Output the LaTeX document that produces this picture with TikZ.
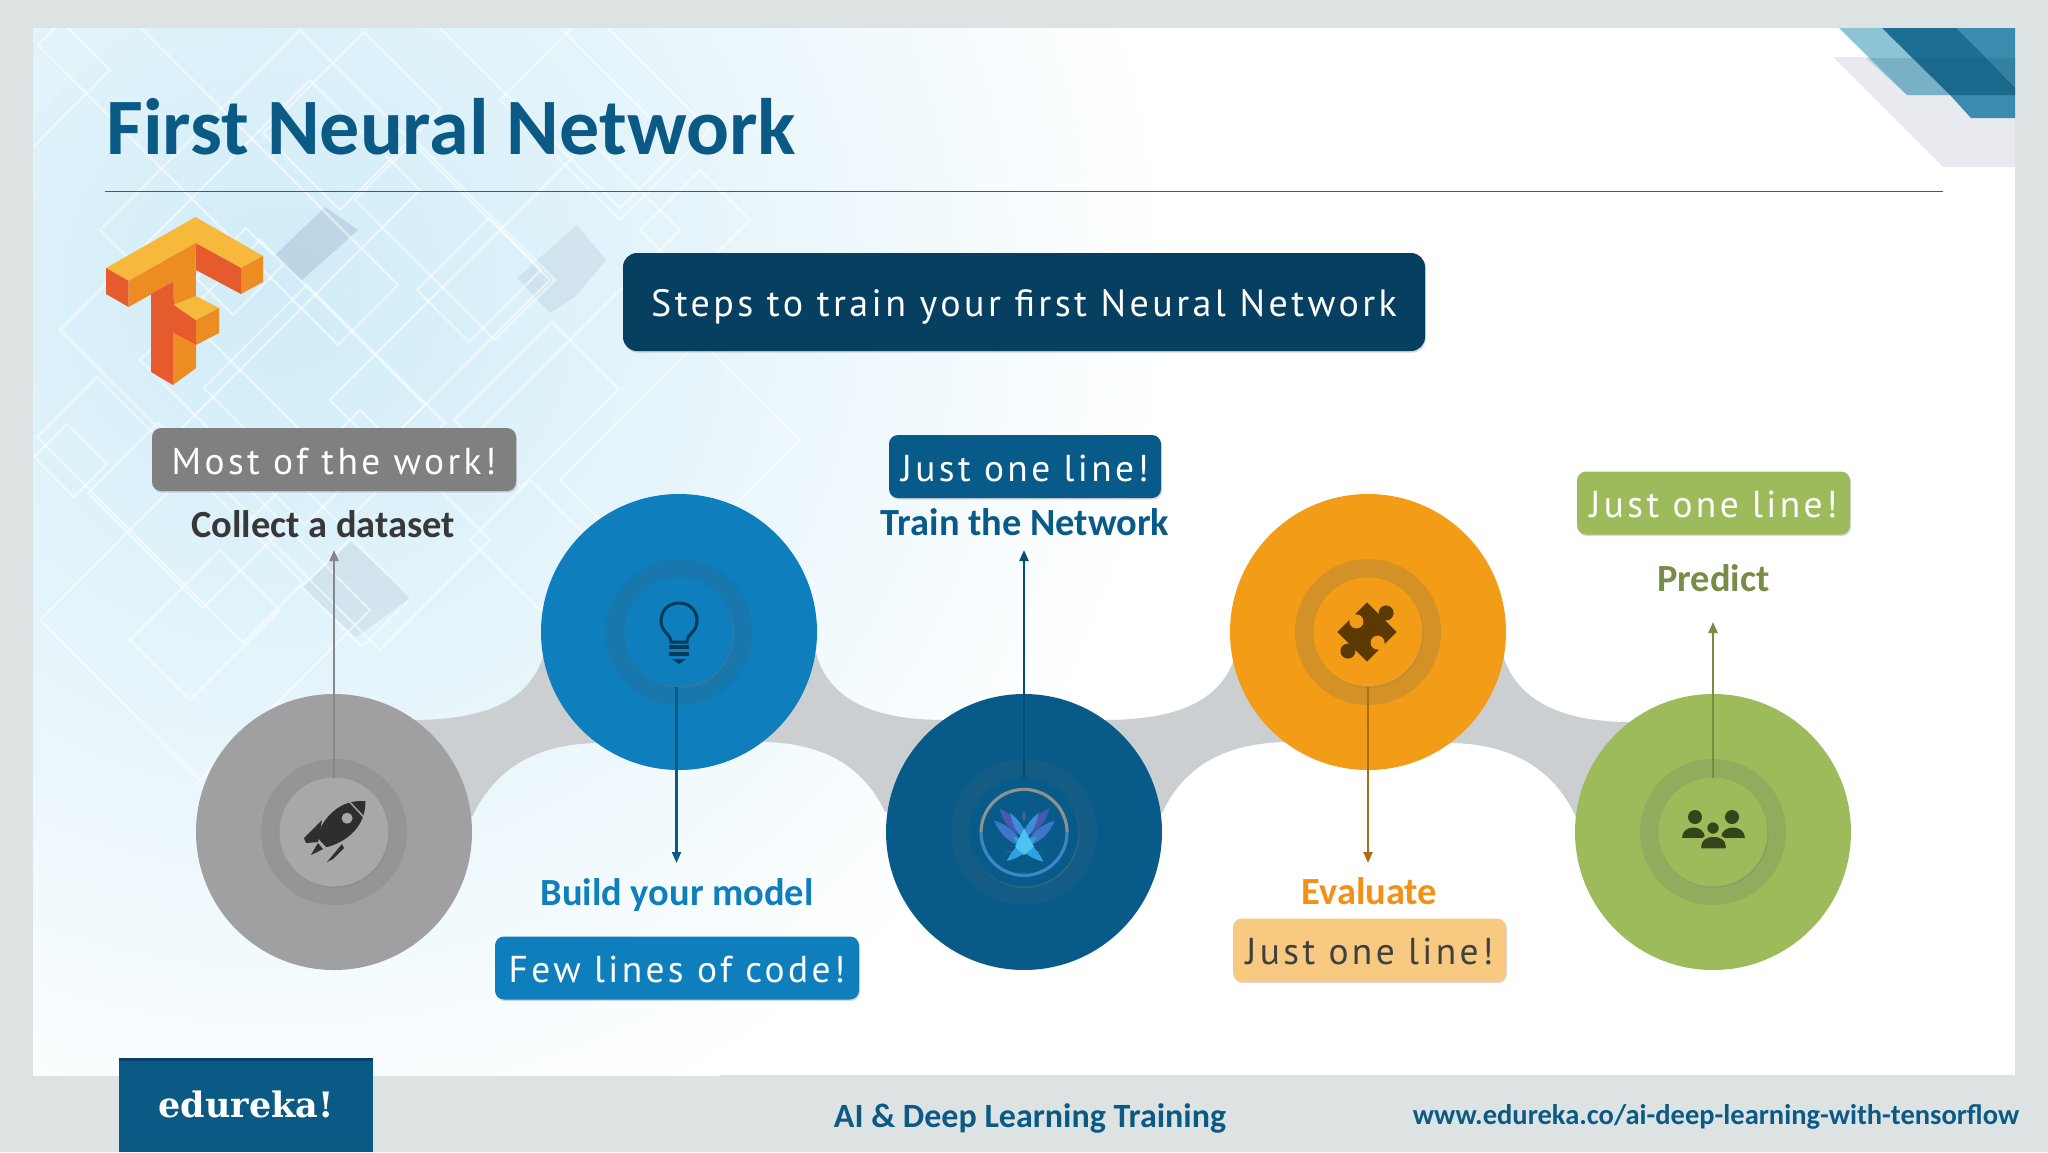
\documentclass[tikz,border=0pt]{standalone}
\usepackage{fontspec}
\usepackage{xcolor}
\usepackage{tikz}
\usetikzlibrary{arrows.meta, positioning, shadows}
\setmainfont{Carlito}
\newfontfamily\dinfont[LetterSpace=9]{PT Sans}
\newfontfamily\logofont{DejaVu Serif}
\definecolor{colFrame}{RGB}{221,227,227}
\definecolor{colWash}{RGB}{208,236,248}
\definecolor{colTitle}{RGB}{11,90,133}
\definecolor{colRule}{RGB}{30,105,138}
\definecolor{colBand}{RGB}{204,207,209}
\definecolor{colGrey}{RGB}{160,159,162}
\definecolor{colGreyRing}{RGB}{149,149,151}
\definecolor{colBlue}{RGB}{14,126,188}
\definecolor{colBlueRing}{RGB}{24,119,172}
\definecolor{colNavy}{RGB}{8,90,136}
\definecolor{colNavyRing}{RGB}{19,92,134}
\definecolor{colOrange}{RGB}{243,156,24}
\definecolor{colOrangeRing}{RGB}{212,145,37}
\definecolor{colGreen}{RGB}{158,187,91}
\definecolor{colGreenRing}{RGB}{146,171,92}
\definecolor{colCornerGrey}{RGB}{232,234,239}
\definecolor{colCornerPale}{RGB}{140,196,214}
\definecolor{colCornerMid}{RGB}{59,139,174}
\definecolor{colCornerDark}{RGB}{30,110,148}
\definecolor{colCornerTint}{RGB}{12,70,105}
\definecolor{colTfYellow}{RGB}{246,185,59}
\definecolor{colTfRed}{RGB}{229,91,45}
\definecolor{colTfOrange}{RGB}{236,140,35}
\definecolor{colPuzzle}{RGB}{90,58,0}
\definecolor{colPeople}{RGB}{52,69,27}
\definecolor{colRingBlue}{RGB}{61,134,198}
\definecolor{colRingGrey}{RGB}{140,145,145}
\definecolor{colPetalA}{RGB}{74,88,176}
\definecolor{colPetalB}{RGB}{62,119,201}
\definecolor{colPetalC}{RGB}{58,143,216}
\definecolor{colPetalD}{RGB}{46,163,224}
\definecolor{colPetalE}{RGB}{79,195,240}
\definecolor{colBrand}{RGB}{10,90,133}
\definecolor{colBrandTop}{RGB}{8,66,100}
\definecolor{colStrip}{RGB}{125,145,170}
\tikzset{
  stepcircle/.style={circle, inner sep=0pt, outer sep=0pt, minimum size=138pt},
  ringcircle/.style={circle, inner sep=0pt, outer sep=0pt, minimum size=73pt},
  disccircle/.style={circle, inner sep=0pt, outer sep=0pt, minimum size=54.5pt,
    drop shadow={opacity=.3, shadow xshift=.5pt, shadow yshift=-.7pt}},
  tagbox/.style={rectangle, rounded corners=4.5pt, inner sep=0pt, minimum height=31.5pt,
    text=white, font=\dinfont\fontsize{18.7}{22}\selectfont, text height=16pt, text depth=1.5pt,
    drop shadow={opacity=.3, shadow xshift=.5pt, shadow yshift=-.8pt}},
  steplabel/.style={font=\bfseries\fontsize{19.2}{23}\selectfont, inner sep=0pt},
  footlabel/.style={font=\bfseries\fontsize{17}{20}\selectfont, inner sep=0pt, text=colTitle},
  stemarr/.style={-{Stealth[length=5.5pt, width=4.5pt, inset=0pt]}, line width=1.1pt},
  lattice/.style={draw=white, line width=1.2pt, opacity=.5},
  bandfill/.style={fill=colBand},
}
% one lattice rhombus: left corner, run up-right, run down-right
\newcommand{\latrhomb}[4]{\draw[lattice] (#1,#2) -- ++(#3,-#3) -- ++(#4,#4) -- ++(-#3,#3) -- cycle;}

\begin{document}
\begin{tikzpicture}[x=.5pt, y=-.5pt]
\useasboundingbox (0,0) rectangle (2048,1152);

% -- Slide ------------------------------------------------------------------
\fill[colFrame] (0,0) rectangle (2048,1152);
\fill[white] (33,28) rectangle (2015,1075);

% -- Background wash and lattice ---------------------------------------------
\begin{scope}
  \clip (33,28) rectangle (2015,1075);
  \shade[inner color=colWash, outer color=white] (280,290) circle (900);
  \fill[colWash!55!white, opacity=.4] (33,28) -- (120,28) -- (33,120) -- cycle;
  % darker strips behind the logo
  \fill[colStrip, opacity=.25] (273,257) -- (325,207) -- (358,230) -- (302,280) -- cycle;
  \fill[colStrip, opacity=.14] (517,278) -- (577,225) -- (606,260) -- (575,297) -- (550,313) -- cycle;
  \fill[colStrip, opacity=.14] (302,587) -- (351,542) -- (412,597) -- (356,637) -- cycle;
  \latrhomb{204}{388}{103}{138}
  \latrhomb{454}{420}{98}{67}
  \latrhomb{417}{290}{72}{52}
  \latrhomb{263}{133}{101}{77}
  \latrhomb{196}{278}{50}{37}
  \latrhomb{302}{587}{49}{60}
  \latrhomb{37}{437}{60}{206}
  \latrhomb{34}{457}{33}{40}
  \latrhomb{38}{45}{60}{300}
  \latrhomb{440}{28}{60}{180}
  \latrhomb{88}{493}{70}{115}
  \latrhomb{470}{540}{60}{70}
  \latrhomb{130}{640}{90}{60}
  \latrhomb{140}{360}{120}{165}
  \latrhomb{355}{200}{60}{140}
  \latrhomb{500}{100}{90}{120}
  \latrhomb{640}{230}{60}{50}
  \latrhomb{-60}{120}{110}{60}
  \latrhomb{60}{330}{250}{110}
  \latrhomb{40}{620}{170}{160}
  \latrhomb{330}{400}{260}{90}
  \latrhomb{100}{230}{200}{250}
  \latrhomb{560}{480}{140}{100}
  \latrhomb{250}{520}{110}{130}
\end{scope}

% -- Corner decoration -------------------------------------------------------
\fill[colCornerGrey] (1833,57) -- (1943,167) -- (2015,167) -- (2015,57) -- cycle;
\fill[colCornerPale] (1839,28) -- (1907,95) -- (1950,95) -- (1883,28) -- cycle;
\fill[colCornerMid] (1950,95) -- (1971,118) -- (2015,118) -- (2015,95) -- cycle;
\fill[colCornerDark] (1882,28) -- (1950,95) -- (2015,95) -- (2015,87) -- (1957,28) -- cycle;
\fill[colCornerMid] (1957,28) -- (2015,87) -- (2015,28) -- cycle;
\fill[colCornerTint, opacity=.15] (1866,58) -- (2015,58) -- (2015,95) -- (1907,95) -- cycle;

% -- Title -------------------------------------------------------------------
\node[font=\bfseries\fontsize{40}{46}\selectfont, text=colTitle, inner sep=0pt, anchor=base west] (title) at (106,154) {First Neural Network};
\coordinate (ruleleft) at (105,191.5);
\coordinate (ruleright) at (1943,191.5);
\draw[colRule, line width=.9pt] (ruleleft) -- (ruleright);

% -- Logo --------------------------------------------------------------------
\fill[colTfYellow] (195.5,217) -- (263,256) -- (241,268) -- (195.5,243) -- (128.6,281) -- (106,268) -- cycle;
\fill[colTfRed] (106,268) -- (128.6,281) -- (128.6,307) -- (106,294) -- cycle;
\fill[colTfOrange] (128.6,281) -- (128.6,307) -- (173,282) -- (174,305) -- (196,296) -- (195.5,243) -- cycle;
\fill[colTfRed] (195.5,243) -- (241,268) -- (241,294) -- (196,270) -- cycle;
\fill[colTfOrange] (241,268) -- (263,256) -- (263,282) -- (241,294) -- cycle;
\fill[colTfRed] (151,294) -- (173,282) -- (174,305) -- (196,320) -- (196,345) -- (173,333) -- (173,385) -- (151,372) -- cycle;
\fill[colTfYellow] (174,305) -- (196,296) -- (219,308) -- (196,320) -- cycle;
\fill[colTfOrange] (196,320) -- (219,308) -- (219,333) -- (196,345) -- cycle;
\fill[colTfOrange] (173,333) -- (196,345) -- (196,368) -- (173,385) -- cycle;

% -- Heading box -------------------------------------------------------------
\node[tagbox, fill=colNavy!70!black, rounded corners=7pt, minimum width=401pt, minimum height=49pt, font=\dinfont\fontsize{19}{23}\selectfont] (steps) at (1024,302) {Steps to train your first Neural Network};

% -- Bands between the circles -----------------------------------------------
\fill[bandfill] (410,720) to[out=0, in=-105] (544,653) -- (600,700) -- (600,743) to[out=180, in=65] (472,817) -- (420,800) -- cycle;
\fill[bandfill] (945,720) to[out=180, in=-75] (816,653) -- (760,700) -- (760,742) to[out=0, in=115] (885,812) -- (940,800) -- cycle;
\fill[bandfill] (1103,720) to[out=0, in=-105] (1236,653) -- (1290,700) -- (1290,742) to[out=180, in=65] (1162,813) -- (1110,800) -- cycle;
\fill[bandfill] (1630,722) to[out=180, in=-75] (1502,652) -- (1450,700) -- (1448,743) to[out=0, in=115] (1576,817) -- (1630,800) -- cycle;

% -- Circles -----------------------------------------------------------------
\node[stepcircle, fill=colGrey] (collect) at (334,832) {};
\node[stepcircle, fill=colBlue] (build) at (679,632) {};
\node[stepcircle, fill=colNavy] (train) at (1024,832) {};
\node[stepcircle, fill=colOrange] (evaluate) at (1368,632) {};
\node[stepcircle, fill=colGreen] (predict) at (1713,832) {};

\node[ringcircle, fill=colGreyRing] (collectring) at (collect) {};
\node[ringcircle, fill=colBlueRing] (buildring) at (build) {};
\node[ringcircle, fill=colNavyRing] (trainring) at (train) {};
\node[ringcircle, fill=colOrangeRing] (evaluatering) at (evaluate) {};
\node[ringcircle, fill=colGreenRing] (predictring) at (predict) {};

% -- Stems (free end sits just short of each label) ---------------------------
\coordinate (collecttip) at (334,550);
\coordinate (buildtip) at (676.5,863);
\coordinate (traintip) at (1024,550);
\coordinate (evaluatetip) at (1368,863);
\coordinate (predicttip) at (1713,622);

\node[disccircle, fill=colGrey!105!black] (collectdisc) at (collect) {};
\node[disccircle, fill=colBlue] (builddisc) at (build) {};
\node[disccircle, fill=colNavy] (traindisc) at (train) {};
\node[disccircle, fill=colOrange] (evaluatedisc) at (evaluate) {};
\node[disccircle, fill=colGreen] (predictdisc) at (predict) {};

\draw[stemarr, draw=black!47, fill=black!47] (collectdisc.north) -- (collecttip);
\draw[stemarr, draw=colNavy, fill=colNavy] (buildtip |- builddisc.south) -- (buildtip);
\draw[stemarr, draw=colNavy!85!black, fill=colNavy!85!black] (traindisc.north) -- (traintip);
\draw[stemarr, draw=colOrange!70!black, fill=colOrange!70!black] (evaluatedisc.south) -- (evaluatetip);
\draw[stemarr, draw=colGreen!75!black, fill=colGreen!75!black] (predictdisc.north) -- (predicttip);

% -- Labels ------------------------------------------------------------------
\node[tagbox, fill=black!50, minimum width=182pt] (mostbox) at (334,459.5) {Most of the work!};
\node[steplabel, text=black!78, below=9.5pt of mostbox, xshift=-5.5pt] (collectlabel) {Collect a dataset};
\node[tagbox, fill=colNavy, minimum width=136pt] (trainbox) at (1025,466.5) {Just one line!};
\node[steplabel, text=colNavy, below=5pt of trainbox] (trainlabel) {Train the Network};
\node[tagbox, fill=colGreen, minimum width=136.5pt] (predictbox) at (1713.5,503) {Just one line!};
\node[steplabel, text=colGreen!75!black, below=14.5pt of predictbox] (predictlabel) {Predict};
\node[tagbox, fill=colBlue, minimum width=182pt] (buildbox) at (677,968) {Few lines of code!};
\node[steplabel, text=colBlue, above=12pt of buildbox] (buildlabel) {Build your model};
\node[tagbox, fill=colOrange!55!white, text=black!75, minimum width=136.5pt] (evaluatebox) at (1369.5,950) {Just one line!};
\node[steplabel, text=colOrange!92!red, above=6.5pt of evaluatebox] (evaluatelabel) {Evaluate};

% -- Icons -------------------------------------------------------------------
% rocket
\begin{scope}[shift={(342,823)}, rotate=-47]
  \fill[black!82] (0,-32) .. controls (19,-15) and (17,10) .. (7,28) -- (-7,28) .. controls (-17,10) and (-19,-15) .. (0,-32) -- cycle;
  \fill[colGrey!105!black] (0,-7) circle (5.5);
  \draw[colGrey!105!black, line width=.7pt] (-11,-20) -- (11,-20);
\end{scope}
\fill[black!82] (304,838) -- (322,820) -- (318,842) -- (306,843) -- cycle;
\fill[black!82] (327,862) -- (342,844) -- (344,848) -- (333,859) -- cycle;
\fill[black!82] (311,855) -- (318,843) -- (323,849) -- cycle;
% bulb
\draw[colNavy!65!black, line width=1.5pt, line cap=round] (671,642) .. controls (671,634) and (661,632) .. (661,621) .. controls (661,597) and (697,597) .. (697,621) .. controls (697,632) and (687,634) .. (687,642) -- cycle;
\fill[colNavy!65!black] (669,645) rectangle (689,649);
\fill[colNavy!65!black] (669,652) rectangle (689,656);
\fill[colNavy!65!black] (672,659) -- (686,659) -- (679,664) -- cycle;
% puzzle piece
\begin{scope}[shift={(1367,632)}, rotate=45]
  \fill[colPuzzle] (-21,-21) rectangle (21,21);
  \fill[colPuzzle] (27,0) circle (7.5);
  \fill[colPuzzle] (-27,0) circle (7.5);
  \fill[colOrange] (0,-15) circle (7);
  \fill[colOrange] (-4,-24) rectangle (4,-16);
  \fill[colOrange] (0,15) circle (7);
  \fill[colOrange] (-4,16) rectangle (4,24);
\end{scope}
% people
\fill[colPeople] (1695,817) circle (7) (1732,817) circle (7);
\fill[colPeople] (1682,838) .. controls (1682,824) and (1705,824) .. (1705,838) -- cycle;
\fill[colPeople] (1721,838) .. controls (1721,824) and (1745,824) .. (1745,838) -- cycle;
\draw[colGreen, line width=1.2pt, fill=colPeople] (1713,828) circle (7);
\draw[colGreen, line width=1.2pt, fill=colPeople] (1700,849.5) -- (1700,846) .. controls (1700,832) and (1727,832) .. (1727,846) -- (1727,849.5) -- cycle;
% lotus emblem
\begin{scope}[shift={(880,680)}, x=.1667pt, y=-.1667pt]
  \draw[colRingBlue, line width=1.6pt] (303,457) arc (180:0:129);
  \draw[colRingGrey, line width=1.6pt] (303,457) arc (-180:0:129);
  \fill[colPetalA] (432,392) to[bend left=35] (432,425) to[bend left=35] (432,392);
  \fill[colPetalA] (358,385) to[bend left=25] (430,470) to[bend left=25] (358,385);
  \fill[colPetalA] (508,385) to[bend right=25] (436,470) to[bend right=25] (508,385);
  \fill[colPetalB] (342,422) to[bend left=25] (430,500) to[bend left=25] (342,422);
  \fill[colPetalB] (524,422) to[bend right=25] (436,500) to[bend right=25] (524,422);
  \fill[colPetalA] (375,515) to[bend left=8] (490,515) to[bend left=8] (375,515);
  \fill[colPetalC] (390,398) to[bend left=20] (445,490) to[bend left=20] (390,398);
  \fill[colPetalC] (476,398) to[bend right=20] (421,490) to[bend right=20] (476,398);
  \fill[colPetalD] (380,543) to[bend right=25] (470,470) to[bend right=25] (380,543);
  \fill[colPetalD] (490,545) to[bend left=25] (400,470) to[bend left=25] (490,545);
  \fill[colPetalE] (432,445) -- (462,500) -- (432,525) -- (405,500) -- cycle;
\end{scope}

% -- Footer ------------------------------------------------------------------
\fill[colBrand] (119,1058) rectangle (373,1152);
\fill[colBrandTop] (119,1058) rectangle (373,1061);
\node[font=\logofont\bfseries\fontsize{17.5}{22}\selectfont, text=white, inner sep=0pt] (brand) at (246,1104) {edureka!};
\node[footlabel] (course) at (1030,1118) {AI \& Deep Learning Training};
\node[footlabel, font=\bfseries\fontsize{14.25}{20}\selectfont] (site) at (1716,1117) {www.edureka.co/ai-deep-learning-with-tensorflow};

\end{tikzpicture}
\end{document}
